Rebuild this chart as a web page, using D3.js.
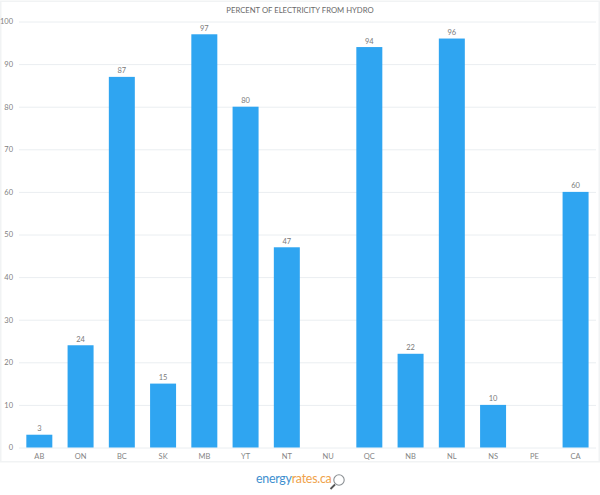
<!DOCTYPE html>
<html><head><meta charset="utf-8">
<script src="https://cdn.jsdelivr.net/npm/d3@7/dist/d3.min.js"></script>
<style>html,body{margin:0;padding:0;background:#fff}svg{display:block}text{font-family:Lato,sans-serif}</style>
</head><body><svg id="c" width="600" height="495"></svg>
<script>
const chartTitle = "PERCENT OF ELECTRICITY FROM HYDRO";
const categories = ["AB","ON","BC","SK","MB","YT","NT","NU","QC","NB","NL","NS","PE","CA"];
const values = [3,24,87,15,97,80,47,null,94,22,96,10,null,60];
const yTicks = [0,10,20,30,40,50,60,70,80,90,100];

const svg = d3.select("#c");
svg.append("rect").attr("x",0.75).attr("y",1.25).attr("width",598.5).attr("height",460.5)
  .attr("fill","#fff").attr("stroke","#f1f3f4").attr("stroke-width",1.5);

const x = d3.scaleBand().domain(categories).range([18.7,596.2]).paddingInner(0.37).paddingOuter(0.185);
const y = d3.scaleLinear().domain([0,100]).range([447.5,21.5]);

const yAxis = svg.append("g").attr("transform","translate(19,0)")
  .call(d3.axisLeft(y).tickValues(yTicks).tickSize(-577).tickPadding(6));
yAxis.select(".domain").remove();
yAxis.selectAll("line").attr("stroke","#eaeef1").attr("stroke-width",1);
yAxis.selectAll("text").attr("fill","#808080").style("font-size","7.5px").style("font-family","Lato,sans-serif");

const xAxis = svg.append("g").attr("transform","translate(0,447.5)")
  .call(d3.axisBottom(x).tickSize(0).tickPadding(6));
xAxis.select(".domain").remove();
xAxis.selectAll("text").attr("fill","#858585").style("font-size","7.5px").style("font-family","Lato,sans-serif");

const rows = categories.map((c,i)=>({c,v:values[i]})).filter(d=>d.v!==null);
svg.append("g").selectAll("rect").data(rows).join("rect")
  .attr("x",d=>x(d.c)).attr("width",x.bandwidth())
  .attr("y",d=>y(d.v)).attr("height",d=>y(0)-y(d.v))
  .attr("fill","#2fa5f1");
svg.append("g").selectAll("text").data(rows).join("text")
  .attr("x",d=>x(d.c)+x.bandwidth()/2).attr("y",d=>y(d.v)-3.5)
  .attr("text-anchor","middle").attr("fill","#7a7a7a").style("font-size","7.5px")
  .text(d=>d.v);

svg.append("text").attr("x",300).attr("y",13).attr("text-anchor","middle")
  .attr("fill","#6a6a6a").style("font-size","7.7px").text(chartTitle);

const logo = svg.append("text").attr("x",256).attr("y",483).style("font-size","12.4px").style("letter-spacing","-0.25px");
logo.append("tspan").attr("fill","#3f8fcf").text("energy");
logo.append("tspan").attr("fill","#f0a24a").text("rates.ca");

const g = svg.append("g").attr("fill","none");
g.append("circle").attr("cx",339).attr("cy",480).attr("r",5.2).attr("stroke","#8a8f93").attr("stroke-width",1.1);
g.append("line").attr("x1",335).attr("y1",484.5).attr("x2",330.5).attr("y2",489).attr("stroke","#555").attr("stroke-width",1.8);
</script></body></html>
